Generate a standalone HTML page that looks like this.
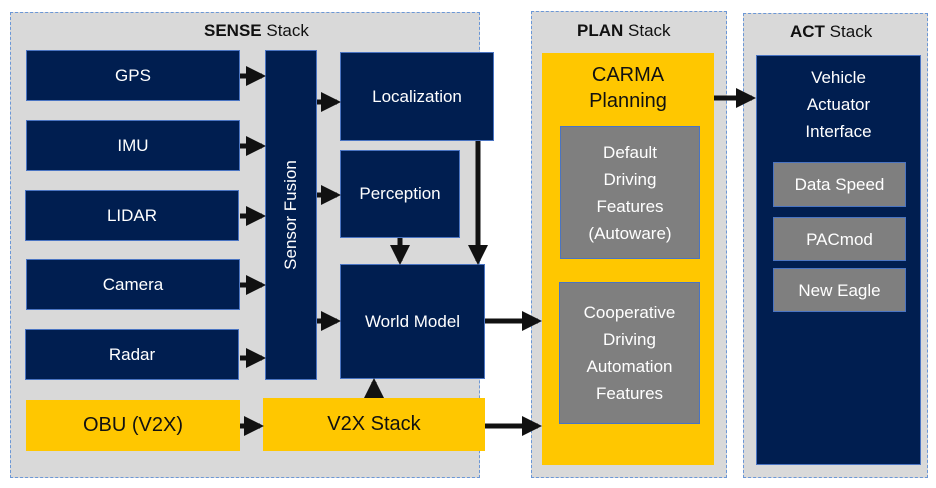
<!DOCTYPE html>
<html><head><style>
body{margin:0;width:936px;height:488px;background:#fff;position:relative;font-family:"Liberation Sans",sans-serif;overflow:hidden}
.b{position:absolute;box-sizing:border-box;display:flex;align-items:center;justify-content:center;text-align:center}
.c{background:#d9d9d9;border:1.5px dashed #6b97d6}
.n{background:#001e50;border:1.5px solid #4a74c2;color:#fff;font-size:17px}
.y{background:#ffc700;color:#111;font-size:20px}
.g{background:#7f7f7f;border:1.5px solid #4a74c2;color:#fff;font-size:17px;line-height:27px}
.t{position:absolute;font-size:17px;color:#111}
</style></head><body>
<div class="b c" style="left:10px;top:12px;width:470px;height:466px"></div>
<div class="b c" style="left:531px;top:11px;width:196px;height:467px"></div>
<div class="b c" style="left:743px;top:13px;width:185px;height:465px"></div>
<div class="t" style="left:204px;top:21px"><b>SENSE</b> Stack</div>
<div class="t" style="left:577px;top:21px"><b>PLAN</b> Stack</div>
<div class="t" style="left:790px;top:22px"><b>ACT</b> Stack</div>

<div class="b n" style="left:26px;top:50px;width:214px;height:51px">GPS</div>
<div class="b n" style="left:26px;top:120px;width:214px;height:51px">IMU</div>
<div class="b n" style="left:25px;top:190px;width:214px;height:51px">LIDAR</div>
<div class="b n" style="left:26px;top:259px;width:214px;height:51px">Camera</div>
<div class="b n" style="left:25px;top:329px;width:214px;height:51px">Radar</div>
<div class="b n" style="left:265px;top:50px;width:52px;height:330px"><span style="transform:rotate(-90deg);white-space:nowrap;display:block">Sensor Fusion</span></div>
<div class="b n" style="left:340px;top:52px;width:154px;height:89px">Localization</div>
<div class="b n" style="left:340px;top:150px;width:120px;height:88px">Perception</div>
<div class="b n" style="left:340px;top:264px;width:145px;height:115px">World Model</div>
<div class="b y" style="left:26px;top:400px;width:214px;height:51px">OBU (V2X)</div>
<div class="b y" style="left:263px;top:398px;width:222px;height:53px">V2X Stack</div>

<div class="b y" style="left:542px;top:53px;width:172px;height:412px;align-items:flex-start;padding-top:9px;line-height:26px">CARMA<br>Planning</div>
<div class="b g" style="left:560px;top:126px;width:140px;height:133px">Default<br>Driving<br>Features<br>(Autoware)</div>
<div class="b g" style="left:559px;top:282px;width:141px;height:142px">Cooperative<br>Driving<br>Automation<br>Features</div>

<div class="b n" style="left:756px;top:55px;width:165px;height:410px;align-items:flex-start;padding-top:8px;line-height:27px">Vehicle<br>Actuator<br>Interface</div>
<div class="b g" style="left:773px;top:162px;width:133px;height:45px">Data Speed</div>
<div class="b g" style="left:773px;top:217px;width:133px;height:44px">PACmod</div>
<div class="b g" style="left:773px;top:268px;width:133px;height:44px">New Eagle</div>

<svg width="936" height="488" style="position:absolute;left:0;top:0">
<defs><marker id="a" markerWidth="4" markerHeight="4" refX="3.2" refY="2" orient="auto" markerUnits="strokeWidth"><path d="M0,0L4,2L0,4z" fill="#111"/></marker></defs>
<g stroke="#111" stroke-width="5" marker-end="url(#a)" fill="none">
<line x1="240" y1="76" x2="262" y2="76"/>
<line x1="240" y1="146" x2="262" y2="146"/>
<line x1="240" y1="216" x2="262" y2="216"/>
<line x1="240" y1="285" x2="262" y2="285"/>
<line x1="240" y1="358" x2="262" y2="358"/>
<line x1="317" y1="102" x2="337" y2="102"/>
<line x1="317" y1="195" x2="337" y2="195"/>
<line x1="317" y1="321" x2="337" y2="321"/>
<line x1="400" y1="238" x2="400" y2="261"/>
<line x1="478" y1="141" x2="478" y2="261"/>
<line x1="374" y1="398" x2="374" y2="382"/>
<line x1="240" y1="426" x2="260" y2="426"/>
<line x1="485" y1="321" x2="538" y2="321"/>
<line x1="485" y1="426" x2="538" y2="426"/>
<line x1="714" y1="98" x2="752" y2="98"/>
</g></svg>
</body></html>
